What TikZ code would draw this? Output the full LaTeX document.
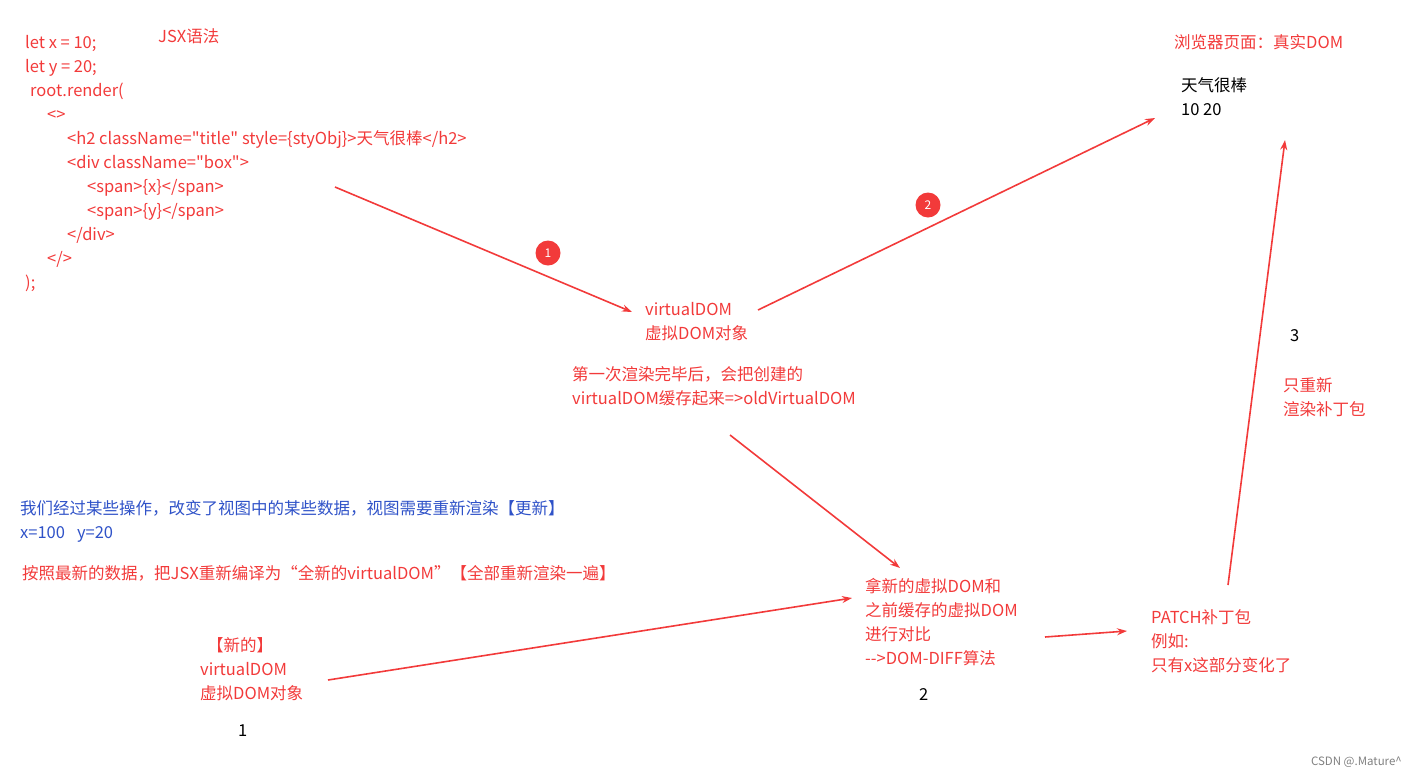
\documentclass[tikz,border=0pt]{standalone}
\usepackage{fontspec}
\setmainfont{Noto Sans CJK SC}
\newfontfamily\plainf{Noto Sans CJK SC}
\usetikzlibrary{arrows.meta}
\definecolor{rd}{HTML}{F23A3A}
\definecolor{bl}{HTML}{2F52C8}
\begin{document}
\begin{tikzpicture}[x=1pt,y=-1pt,
 txt/.style={anchor=north west,inner sep=0pt,align=left,font=\plainf\fontsize{16.5}{24}\selectfont,text=rd},
 arr/.style={draw=rd,line width=1.6pt,-{Stealth[length=10pt,width=7pt]}},
 badge/.style={circle,fill=rd,text=white,inner sep=0pt,minimum size=25pt,font=\fontsize{12}{12}\selectfont}]
\useasboundingbox (0,0) rectangle (1412,777);
\node[txt] (code) at (25,35) {let x = 10;\\let y = 20;\\\hspace*{5pt}root.render(\\\hspace*{22pt}<>\\\hspace*{42pt}<h2 className="title" style=\{styObj\}>天气很棒</h2>\\\hspace*{42pt}<div className="box">\\\hspace*{62pt}<span>\{x\}</span>\\\hspace*{62pt}<span>\{y\}</span>\\\hspace*{42pt}</div>\\\hspace*{22pt}</>\\);};
\node[txt] (jsx) at (158,28) {JSX语法};
\node[txt] (page) at (1174,34) {浏览器页面：真实DOM};
\node[txt,text=black] (real) at (1181,77) {天气很棒\\10 20};
\node[txt] (vdom) at (645,302) {virtualDOM\\虚拟DOM对象};
\node[txt] (cache) at (572,366) {第一次渲染完毕后，会把创建的\\virtualDOM缓存起来=>oldVirtualDOM};
\node[txt,text=bl] (op) at (20,500) {我们经过某些操作，改变了视图中的某些数据，视图需要重新渲染【更新】\\x=100\hspace{12pt}y=20};
\node[txt] (compile) at (22,565) {按照最新的数据，把JSX重新编译为“全新的virtualDOM”【全部重新渲染一遍】};
\node[txt] (newv) at (200,637) {\hspace*{7pt}【新的】\\virtualDOM\\虚拟DOM对象};
\node[txt,text=black] (n1) at (238,725) {1};
\node[txt] (diff) at (865,578) {拿新的虚拟DOM和\\之前缓存的虚拟DOM\\进行对比\\-->DOM-DIFF算法};
\node[txt,text=black] (n2) at (919,688) {2};
\node[txt] (patch) at (1151,609) {PATCH补丁包\\例如:\\只有x这部分变化了};
\node[txt,text=black] (n3) at (1290,329) {3};
\node[txt] (only) at (1283,377) {只重新\\渲染补丁包};
\node[anchor=east,inner sep=0pt,text=gray,font=\fontsize{11.5}{11.5}\selectfont] (csdn) at (1402,762) {CSDN @.Mature\textasciicircum};
\node[badge] (b1) at (548,253) {1};
\node[badge] (b2) at (928,205) {2};
\coordinate (a1s) at (335,187); \coordinate (a1e) at (632,312);
\coordinate (a2s) at (758,310); \coordinate (a2e) at (1155,118);
\coordinate (a3s) at (730,435); \coordinate (a3e) at (900,568);
\coordinate (a4s) at (328,680); \coordinate (a4e) at (852,598);
\coordinate (a5s) at (1045,637); \coordinate (a5e) at (1127,631);
\coordinate (a6s) at (1228,585); \coordinate (a6e) at (1285,140);
\foreach \s/\e in {a1s/a1e,a2s/a2e,a3s/a3e,a4s/a4e,a5s/a5e,a6s/a6e}
  \draw[arr] (\s) -- (\e);
\end{tikzpicture}
\end{document}
